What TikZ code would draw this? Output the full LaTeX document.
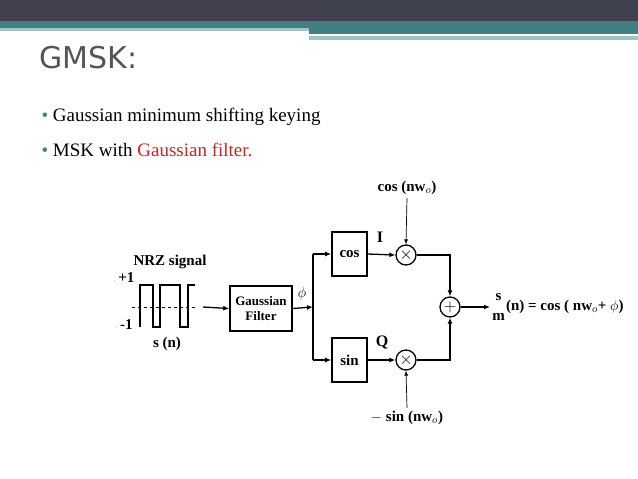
\documentclass[tikz,border=0pt]{standalone}
\usepackage{fontspec}
\usepackage{amsmath}
\setmainfont{Liberation Serif}
\newfontfamily\titlefont{DejaVu Sans}
\usetikzlibrary{arrows.meta}
\definecolor{hdr}{HTML}{40404F}
\definecolor{teal1}{HTML}{418082}
\definecolor{teal2}{HTML}{A3C2C4}
\definecolor{ttl}{HTML}{555555}
\definecolor{redt}{HTML}{D02020}
\begin{document}
\begin{tikzpicture}[x=1pt,y=-1pt,
  blk/.style={draw,line width=1.6pt,minimum width=35pt,minimum height=44pt,font=\fontsize{15}{16}\selectfont\bfseries},
  mix/.style={draw,circle,line width=1.3pt,minimum size=20pt,inner sep=0pt,font=\fontsize{16}{16}\selectfont\bfseries},
  wire/.style={line width=1.3pt},
  arr/.style={wire,-{Latex[length=6pt,width=5pt]}},
  lbl/.style={font=\fontsize{15}{16}\selectfont\bfseries,inner sep=1pt}]
\useasboundingbox (0,0) rectangle (638,479);
\fill[white] (0,0) rectangle (638,479);
\fill[hdr] (0,0) rectangle (638,21);
\fill[teal1] (0,21) rectangle (638,28);
\fill[teal2] (0,28) rectangle (309,31);
\fill[teal1] (309,28) rectangle (638,34);
\fill[teal2] (309,36) rectangle (638,40);
\node[anchor=west,text=ttl,font=\titlefont\fontsize{30}{32}\selectfont] (title) at (36,58) {GMSK:};
\node[anchor=west,font=\fontsize{19}{21}\selectfont] (b1) at (38,117) {\textcolor{teal1}{\textbullet}\ Gaussian minimum shifting keying};
\node[anchor=west,font=\fontsize{19}{21}\selectfont] (b2) at (38,150) {\textcolor{teal1}{\textbullet}\ MSK with \textcolor{redt}{Gaussian filter.}};
% NRZ
\node[lbl] (nrz) at (170,262) {NRZ signal};
\node[lbl] (p1) at (124,278) {{\tiny$\cdot$}\,+1};
\node[lbl] (m1) at (124,325) {{\tiny$\cdot$}\,-1};
\draw[line width=0.8pt,dashed] (132,307) -- (196,307);
\draw[line width=1.8pt] (140,327)--(140,285)--(153,285)--(153,327)--(160,327)--(160,285)--(180,285)--(180,327)--(188,327)--(188,285)--(195,285);
\node[lbl] (sn) at (167,344) {s (n)};
\coordinate (src) at (203,307);
\node[blk,minimum width=62pt,minimum height=45pt,align=center,inner sep=1pt,font=\fontsize{13}{15}\selectfont\bfseries] (gf) at (261,308.5) {Gaussian\\Filter};
\draw[arr] (src) -- (gf.west);
\node[lbl] (phi) at (302,294) {$\phi$};
\coordinate (bus) at (313,307);
\coordinate (bt) at (313,254);
\coordinate (bb) at (313,360);
\draw[arr] (gf.east) -- (bus);
\draw[wire] (bt) -- (bb);
\node[blk] (cos) at (349.5,254) {cos};
\node[blk] (sin) at (349.5,360) {sin};
\draw[arr] (bt) -- (cos.west);
\draw[arr] (bb) -- (sin.west);
\node[lbl,font=\fontsize{16}{16}\selectfont\bfseries] (I) at (380,237) {I};
\node[lbl,font=\fontsize{16}{16}\selectfont\bfseries] (Q) at (382,342) {Q};
\node[mix] (m1c) at (406,255) {$\times$};
\node[mix] (m2c) at (406,360) {$\times$};
\draw[arr] (cos.east) -- (m1c.west);
\draw[arr] (sin.east) -- (m2c.west);
\node[lbl] (c0) at (407,188) {cos (nw$_o$)};
\node[lbl] (s0) at (407,418) {$-$ sin (nw$_o$)};
\draw[-{Latex[length=5pt,width=4pt]},line width=0.7pt] (c0.south) ++(0,2) -- (m1c.north);
\draw[-{Latex[length=5pt,width=4pt]},line width=0.7pt] (s0.north) ++(0,-2) -- (m2c.south);
\node[mix] (sum) at (450,307) {$+$};
\draw[arr] (m1c.east) -| (sum.north);
\draw[arr] (m2c.east) -| (sum.south);
\coordinate (out) at (490,307);
\draw[arr] (sum.east) -- (out);
\node[lbl,anchor=west] (eq) at (490,307) {$\genfrac{}{}{0pt}{0}{\textbf{s}}{\textbf{m}}$(n) = cos ( nw$_o$+ $\phi$)};
\end{tikzpicture}
\end{document}
